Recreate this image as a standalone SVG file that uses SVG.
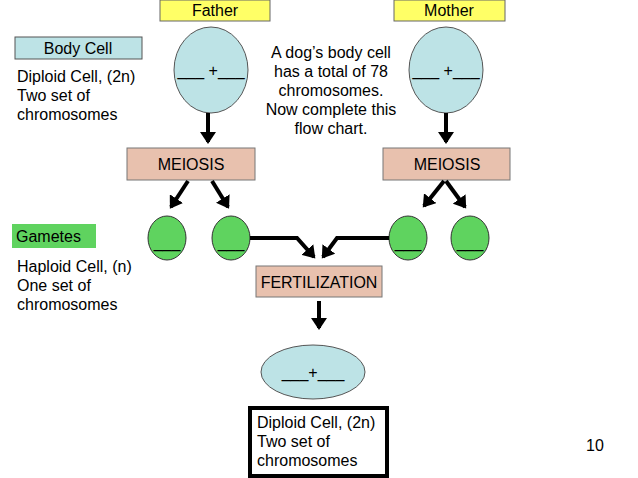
<svg xmlns="http://www.w3.org/2000/svg" width="638" height="478" viewBox="0 0 638 478">
<defs><marker id="ah" markerWidth="4" markerHeight="4" refX="2.5" refY="2" orient="auto" markerUnits="strokeWidth"><path d="M0,0 L3,2 L0,4 Z" fill="#000"/></marker></defs>
<style>
text{font-family:"Liberation Sans",Arial,sans-serif;font-size:16px;fill:#000}
.yel{fill:#ffff66;stroke:#666;stroke-width:1}
.blue{fill:#bde3e6;stroke:#555;stroke-width:1}
.pink{fill:#e8c1ae;stroke:#777;stroke-width:1}
.grn{fill:#5fd35f;stroke:#333;stroke-width:1}
.c{stroke:#000;stroke-width:4;fill:none;marker-end:url(#ah)}
</style>
<rect width="638" height="478" fill="#fff"/>
<g id="father"><rect class="yel" x="160" y="0" width="110" height="21"/><text x="215" y="16" text-anchor="middle">Father</text></g>
<g id="mother"><rect class="yel" x="394" y="0" width="111" height="21"/><text x="449" y="16" text-anchor="middle">Mother</text></g>
<g id="bodycell"><rect class="blue" x="15" y="37" width="127" height="22"/><text x="78" y="54" text-anchor="middle">Body Cell</text></g>
<g id="diploid1"><text x="17" y="82">Diploid Cell, (2n)</text><text x="17" y="101">Two set of</text><text x="17" y="120">chromosomes</text></g>
<g id="fcell"><ellipse class="blue" cx="211" cy="70" rx="37" ry="43"/><text x="211" y="76" text-anchor="middle">___ +___</text></g>
<g id="mcell"><ellipse class="blue" cx="446" cy="70" rx="37" ry="43"/><text x="446" y="76" text-anchor="middle">___ +___</text></g>
<g id="note"><text text-anchor="middle" x="331"><tspan x="331" y="58">A dog’s body cell</tspan><tspan x="331" y="77">has a total of 78</tspan><tspan x="331" y="96">chromosomes.</tspan><tspan x="331" y="115">Now complete this</tspan><tspan x="331" y="134">flow chart.</tspan></text></g>
<g id="meiosis1"><rect class="pink" x="127" y="148" width="128" height="32"/><text x="191" y="170" text-anchor="middle">MEIOSIS</text></g>
<g id="meiosis2"><rect class="pink" x="383" y="148" width="127" height="32"/><text x="447" y="170" text-anchor="middle">MEIOSIS</text></g>
<g id="gametes"><rect x="12" y="224" width="84" height="24" fill="#5fd35f"/><text x="16" y="242">Gametes</text></g>
<g id="haploid"><text x="17" y="272">Haploid Cell, (n)</text><text x="17" y="291">One set of</text><text x="17" y="310">chromosomes</text></g>
<g id="g1"><ellipse class="grn" cx="167" cy="238" rx="19" ry="22"/><text x="167" y="248" text-anchor="middle">___</text></g>
<g id="g2"><ellipse class="grn" cx="231" cy="238" rx="19" ry="22"/><text x="231" y="248" text-anchor="middle">___</text></g>
<g id="g3"><ellipse class="grn" cx="408" cy="238" rx="19" ry="22"/><text x="408" y="248" text-anchor="middle">___</text></g>
<g id="g4"><ellipse class="grn" cx="470" cy="238" rx="19" ry="22"/><text x="470" y="248" text-anchor="middle">___</text></g>
<g id="fert"><rect class="pink" x="256" y="266" width="126" height="31"/><text x="319" y="288" text-anchor="middle">FERTILIZATION</text></g>
<g id="zygote"><ellipse class="blue" cx="313" cy="372" rx="52" ry="27"/><text x="313" y="378" text-anchor="middle">___+___</text></g>
<g id="diploid2"><rect x="250" y="408" width="137" height="68" fill="#fff" stroke="#000" stroke-width="4"/><text x="257" y="428">Diploid Cell, (2n)</text><text x="257" y="447">Two set of</text><text x="257" y="466">chromosomes</text></g>
<text x="586" y="451" font-size="13">10</text>
<g id="connectors">
<path class="c" d="M208,113 V142"/>
<path class="c" d="M446,113 V142"/>
<path class="c" d="M188,181 L171,207"/>
<path class="c" d="M212,181 L228,207"/>
<path class="c" d="M444,181 L424,206"/>
<path class="c" d="M446,181 L465,207"/>
<path class="c" d="M250,238 H297 L314,257"/>
<path class="c" d="M389,238 H337 L323,257"/>
<path class="c" d="M319,301 V328"/>
</g>
</svg>
